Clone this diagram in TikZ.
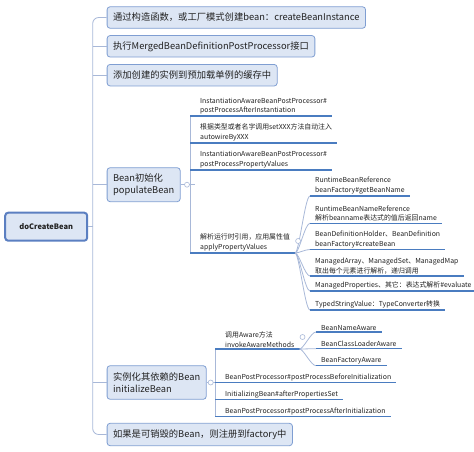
\documentclass[tikz,border=0pt]{standalone}
\usepackage{fontspec}
\setmainfont{Noto Sans CJK SC}
\definecolor{boxfill}{HTML}{DDE6F4}
\definecolor{boxline}{HTML}{7F9ED2}
\definecolor{rootline}{HTML}{5B7FC1}
\definecolor{ulcol}{HTML}{4A7CC0}
\definecolor{conncol}{HTML}{A8B8D8}
\definecolor{txt}{HTML}{222222}
\tikzset{
  box/.style={draw=boxline, fill=boxfill, rounded corners=3pt, line width=0.8pt,
    anchor=west, inner xsep=6pt, inner ysep=2pt, minimum height=21.5pt, align=left,
    text=txt, font=\fontsize{9.3}{12}\selectfont},
  rootbox/.style={box, anchor=center, draw=rootline, line width=2pt, minimum width=82pt,
    minimum height=28pt, align=center, font=\fontsize{7.5}{9}\selectfont\bfseries},
  leaf/.style={anchor=south west, inner xsep=5pt, inner ysep=1.6pt, align=left,
    text=txt, font=\fontsize{6.9}{9.6}\selectfont},
  uline/.style={draw=ulcol, line width=1.3pt},
  conn/.style={draw=conncol, line width=0.8pt},
  marker/.style={circle, draw=conncol, fill=white, line width=0.6pt, minimum size=5pt, inner sep=0pt},
}
\begin{document}
\begin{tikzpicture}[x=1pt,y=-1pt]
\useasboundingbox (0,0) rectangle (474,451);

% root and level-1 boxes
\node[rootbox] (root) at (46.2,226.7) {doCreateBean};
\node[box] (b1) at (106.7,17.5) {通过构造函数，或工厂模式创建bean：createBeanInstance};
\node[box] (b2) at (106.7,46.3) {执行MergedBeanDefinitionPostProcessor接口};
\node[box] (b3) at (106.7,75.2) {添加创建的实例到预加载单例的缓存中};
\node[box, minimum height=34pt] (b4) at (106.7,184.7) {Bean初始化\\populateBean};
\node[box, minimum height=33.6pt] (b5) at (106.7,382.5) {实例化其依赖的Bean\\initializeBean};
\node[box, minimum height=22.4pt] (b6) at (106.7,434.5) {如果是可销毁的Bean，则注册到factory中};

% trunk
\coordinate (tk) at (92.7,0);
\draw[conn, rounded corners=6pt] (b1.west) -- (b1.west -| tk) -- (b6.west -| tk) -- (b6.west);
\foreach \b in {b2,b3,b4,b5} \draw[conn] (\b.west -| tk) -- (\b.west);
\draw[conn] (root.east) -- (root.east -| tk);

% populateBean children
\node[leaf] (p1) at (195,116) {InstantiationAwareBeanPostProcessor\#\\postProcessAfterInstantiation};
\node[leaf] (p2) at (195,143) {根据类型或者名字调用setXXX方法自动注入\\autowireByXXX};
\node[leaf] (p3) at (195,170) {InstantiationAwareBeanPostProcessor\#\\postProcessPropertyValues};
\node[leaf] (p4) at (195,253) {解析运行时引用，应用属性值\\applyPropertyValues};
\draw[conn] ([xshift=-5pt]p1.south west) -- ([xshift=-5pt]p4.south west);
\draw[conn] (b4.east) -- (b4.east -| p1.south west);
\foreach \n in {p1,p2,p3,p4} \draw[uline] ([xshift=-5pt]\n.south west) -- (\n.south east);
\node[marker] (m4) at (187,184.7) {};

% applyPropertyValues children
\node[leaf] (a1) at (310,196) {RuntimeBeanReference\\beanFactory\#getBeanName};
\node[leaf] (a2) at (310,223.3) {RuntimeBeanNameReference\\解析beanname表达式的值后返回name};
\node[leaf] (a3) at (310,249.5) {BeanDefinitionHolder、BeanDefinition\\beanFactory\#createBean};
\node[leaf] (a4) at (310,276) {ManagedArray、ManagedSet、ManagedMap\\取出每个元素进行解析，递归调用};
\node[leaf] (a5) at (310,291) {ManagedProperties、其它：表达式解析\#evaluate};
\node[leaf] (a6) at (310,310) {TypedStringValue：TypeConverter转换};
\foreach \n in {a1,a2,a3,a4,a5,a6} {
  \draw[conn] (p4.south east) .. controls +(4,0) and +(-5,0) .. (\n.south west);
  \draw[uline] (\n.south west) -- (\n.south east);
}
\node[marker] (mp4) at ([xshift=3pt,yshift=12pt]p4.south east) {};

% initializeBean children
\node[leaf] (i1) at (220,349) {调用Aware方法\\invokeAwareMethods};
\node[leaf] (i2) at (220,382.7) {BeanPostProcessor\#postProcessBeforeInitialization};
\node[leaf] (i3) at (220,399.7) {InitializingBean\#afterPropertiesSet};
\node[leaf] (i4) at (220,416.7) {BeanPostProcessor\#postProcessAfterInitialization};
\draw[conn] ([xshift=-5pt]i1.south west) -- ([xshift=-5pt]i4.south west);
\draw[conn] (b5.east) -- (b5.east -| i1.south west);
\foreach \n in {i1,i2,i3,i4} \draw[uline] ([xshift=-5pt]\n.south west) -- (\n.south east);
\node[marker] (m5) at (210.7,382.5) {};

% invokeAwareMethods children
\node[leaf] (w1) at (316,332) {BeanNameAware};
\node[leaf] (w2) at (316,348.7) {BeanClassLoaderAware};
\node[leaf] (w3) at (316,365.7) {BeanFactoryAware};
\foreach \n in {w1,w2,w3} {
  \draw[conn] (i1.south east) .. controls +(4,0) and +(-5,0) .. (\n.south west);
  \draw[uline] (\n.south west) -- (\n.south east);
}
\node[marker] (mi1) at ([xshift=3pt,yshift=12pt]i1.south east) {};
\end{tikzpicture}
\end{document}
